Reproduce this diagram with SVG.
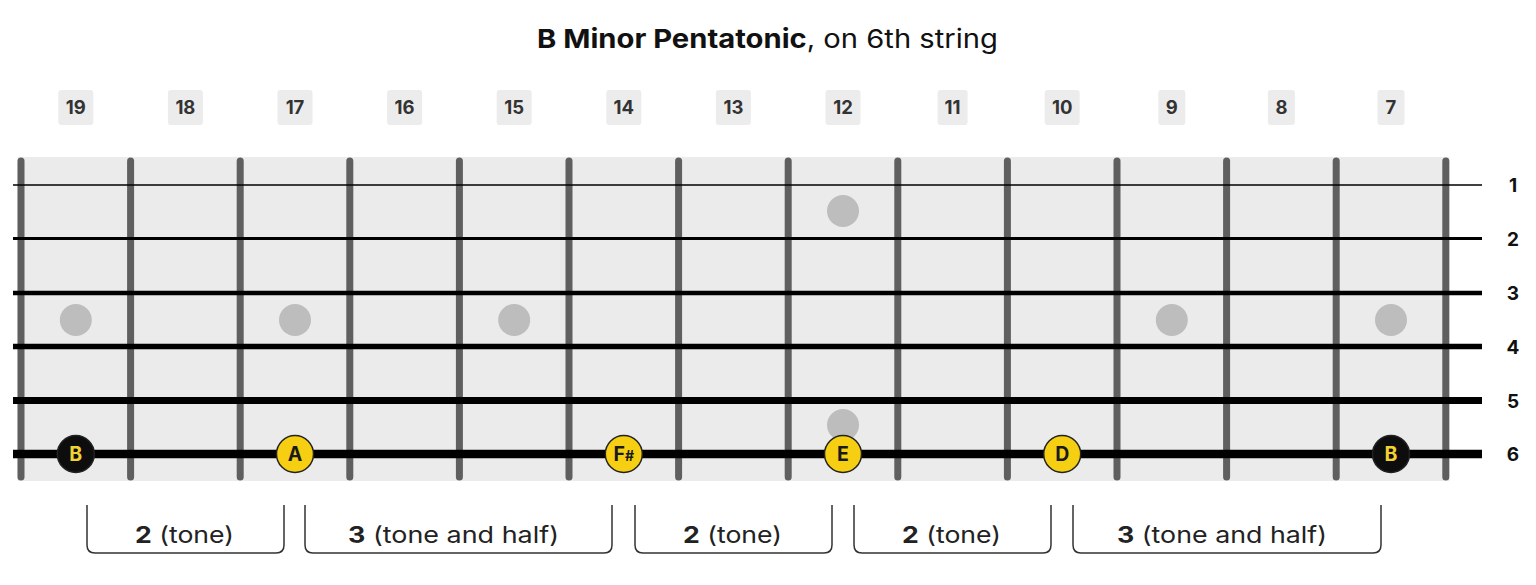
<svg xmlns="http://www.w3.org/2000/svg" width="1536" height="585" viewBox="0 0 1536 585">
<style>
  text { font-family: Inter, "Open Sans", "Liberation Sans", sans-serif; }
  .title { font-size: 26px; fill: #111; }
  .fretbox { fill: #ececec; }
  .fretnum { font-size: 18.5px; font-weight: 700; fill: #333; text-anchor: middle; }
  .fret { stroke: #5f5f5f; stroke-width: 7; stroke-linecap: round; }
  .str { stroke: #000; }
  .strnum { font-size: 19px; font-weight: 700; fill: #111; text-anchor: middle; }
  .inlay { fill: #bdbdbd; }
  .note { stroke: #222; stroke-width: 1.5; }
  .yellow { fill: #f6cf12; }
  .black { fill: #0d0d0d; }
  .notetxt { font-size: 19.5px; font-weight: 700; text-anchor: middle; }
  .bracket { fill: none; stroke: #333; stroke-width: 1.5; }
  .blabel { font-size: 23px; fill: #222; }
</style>

<text class="title" x="537" y="47.5" textLength="461" lengthAdjust="spacingAndGlyphs"><tspan font-weight="700">B Minor Pentatonic</tspan>, on 6th string</text>

<g id="fret-numbers">
  <g id="fn19"><rect class="fretbox" x="58.3" y="90" width="35" height="35" rx="3"/><text class="fretnum" x="75.8" y="114">19</text></g>
  <g id="fn18"><rect class="fretbox" x="167.9" y="90" width="35" height="35" rx="3"/><text class="fretnum" x="185.4" y="114">18</text></g>
  <g id="fn17"><rect class="fretbox" x="277.5" y="90" width="35" height="35" rx="3"/><text class="fretnum" x="295" y="114">17</text></g>
  <g id="fn16"><rect class="fretbox" x="387.1" y="90" width="35" height="35" rx="3"/><text class="fretnum" x="404.6" y="114">16</text></g>
  <g id="fn15"><rect class="fretbox" x="496.7" y="90" width="35" height="35" rx="3"/><text class="fretnum" x="514.2" y="114">15</text></g>
  <g id="fn14"><rect class="fretbox" x="606.3" y="90" width="35" height="35" rx="3"/><text class="fretnum" x="623.8" y="114">14</text></g>
  <g id="fn13"><rect class="fretbox" x="715.9" y="90" width="35" height="35" rx="3"/><text class="fretnum" x="733.4" y="114">13</text></g>
  <g id="fn12"><rect class="fretbox" x="825.5" y="90" width="35" height="35" rx="3"/><text class="fretnum" x="843" y="114">12</text></g>
  <g id="fn11"><rect class="fretbox" x="937.6" y="90" width="30" height="35" rx="3"/><text class="fretnum" x="952.6" y="114">11</text></g>
  <g id="fn10"><rect class="fretbox" x="1044.7" y="90" width="35" height="35" rx="3"/><text class="fretnum" x="1062.2" y="114">10</text></g>
  <g id="fn9"><rect class="fretbox" x="1158.3" y="90" width="27" height="35" rx="3"/><text class="fretnum" x="1171.8" y="114">9</text></g>
  <g id="fn8"><rect class="fretbox" x="1267.9" y="90" width="27" height="35" rx="3"/><text class="fretnum" x="1281.4" y="114">8</text></g>
  <g id="fn7"><rect class="fretbox" x="1377.5" y="90" width="27" height="35" rx="3"/><text class="fretnum" x="1391" y="114">7</text></g>
</g>

<g id="fretboard">
  <rect x="17.5" y="157" width="1432" height="324" fill="#ebebeb"/>
  <g id="frets">
    <line class="fret" x1="21" y1="161" x2="21" y2="477"/>
    <line class="fret" x1="130.6" y1="161" x2="130.6" y2="477"/>
    <line class="fret" x1="240.2" y1="161" x2="240.2" y2="477"/>
    <line class="fret" x1="349.8" y1="161" x2="349.8" y2="477"/>
    <line class="fret" x1="459.4" y1="161" x2="459.4" y2="477"/>
    <line class="fret" x1="569" y1="161" x2="569" y2="477"/>
    <line class="fret" x1="678.6" y1="161" x2="678.6" y2="477"/>
    <line class="fret" x1="788.2" y1="161" x2="788.2" y2="477"/>
    <line class="fret" x1="897.8" y1="161" x2="897.8" y2="477"/>
    <line class="fret" x1="1007.4" y1="161" x2="1007.4" y2="477"/>
    <line class="fret" x1="1117" y1="161" x2="1117" y2="477"/>
    <line class="fret" x1="1226.6" y1="161" x2="1226.6" y2="477"/>
    <line class="fret" x1="1336.2" y1="161" x2="1336.2" y2="477"/>
    <line class="fret" x1="1445.8" y1="161" x2="1445.8" y2="477"/>
  </g>
  <g id="inlays">
    <circle class="inlay" cx="75.8" cy="320" r="16"/>
    <circle class="inlay" cx="295" cy="320" r="16"/>
    <circle class="inlay" cx="514.2" cy="320" r="16"/>
    <circle class="inlay" cx="843" cy="211" r="16"/>
    <circle class="inlay" cx="843" cy="425" r="16"/>
    <circle class="inlay" cx="1171.8" cy="320" r="16"/>
    <circle class="inlay" cx="1391" cy="320" r="16"/>
  </g>
  <g id="strings">
    <line class="str" x1="13" y1="185" x2="1482" y2="185" stroke-width="1.5"/>
    <line class="str" x1="13" y1="238.5" x2="1482" y2="238.5" stroke-width="3"/>
    <line class="str" x1="13" y1="293" x2="1482" y2="293" stroke-width="4.5"/>
    <line class="str" x1="13" y1="346.5" x2="1482" y2="346.5" stroke-width="5.5"/>
    <line class="str" x1="13" y1="400.5" x2="1482" y2="400.5" stroke-width="7"/>
    <line class="str" x1="13" y1="454" x2="1482" y2="454" stroke-width="8.5"/>
  </g>
</g>

<g id="string-numbers">
  <text class="strnum" x="1513" y="192">1</text>
  <text class="strnum" x="1513" y="245.5">2</text>
  <text class="strnum" x="1513" y="300">3</text>
  <text class="strnum" x="1513" y="353.5">4</text>
  <text class="strnum" x="1513" y="407.5">5</text>
  <text class="strnum" x="1513" y="461">6</text>
</g>

<g id="notes">
  <g id="note-B1"><circle class="note black" cx="75.8" cy="454" r="18.5"/><text class="notetxt" x="75.8" y="461" fill="#f2d232">B</text></g>
  <g id="note-A"><circle class="note yellow" cx="295" cy="454" r="18.5"/><text class="notetxt" x="295" y="461" fill="#1a1a1a">A</text></g>
  <g id="note-Fs"><circle class="note yellow" cx="623.8" cy="454" r="18.5"/><text class="notetxt" x="623.8" y="461" fill="#1a1a1a">F<tspan font-size="14">#</tspan></text></g>
  <g id="note-E"><circle class="note yellow" cx="843" cy="454" r="18.5"/><text class="notetxt" x="843" y="461" fill="#1a1a1a">E</text></g>
  <g id="note-D"><circle class="note yellow" cx="1062.2" cy="454" r="18.5"/><text class="notetxt" x="1062.2" y="461" fill="#1a1a1a">D</text></g>
  <g id="note-B2"><circle class="note black" cx="1391" cy="454" r="18.5"/><text class="notetxt" x="1391" y="461" fill="#f2d232">B</text></g>
</g>

<g id="brackets">
  <path class="bracket" d="M87 505 V545 Q87 553 95 553 H276 Q284 553 284 545 V505"/>
  <path class="bracket" d="M305 505 V545 Q305 553 313 553 H604 Q612 553 612 545 V505"/>
  <path class="bracket" d="M635 505 V545 Q635 553 643 553 H824 Q832 553 832 545 V505"/>
  <path class="bracket" d="M854 505 V545 Q854 553 862 553 H1043 Q1051 553 1051 545 V505"/>
  <path class="bracket" d="M1073 505 V545 Q1073 553 1081 553 H1373 Q1381 553 1381 545 V505"/>
  <text class="blabel" x="135" y="543" textLength="99" lengthAdjust="spacingAndGlyphs"><tspan font-weight="700">2</tspan> (tone)</text>
  <text class="blabel" x="348" y="543" textLength="211" lengthAdjust="spacingAndGlyphs"><tspan font-weight="700">3</tspan> (tone and half)</text>
  <text class="blabel" x="683" y="543" textLength="99" lengthAdjust="spacingAndGlyphs"><tspan font-weight="700">2</tspan> (tone)</text>
  <text class="blabel" x="902" y="543" textLength="99" lengthAdjust="spacingAndGlyphs"><tspan font-weight="700">2</tspan> (tone)</text>
  <text class="blabel" x="1117" y="543" textLength="210" lengthAdjust="spacingAndGlyphs"><tspan font-weight="700">3</tspan> (tone and half)</text>
</g>
</svg>
